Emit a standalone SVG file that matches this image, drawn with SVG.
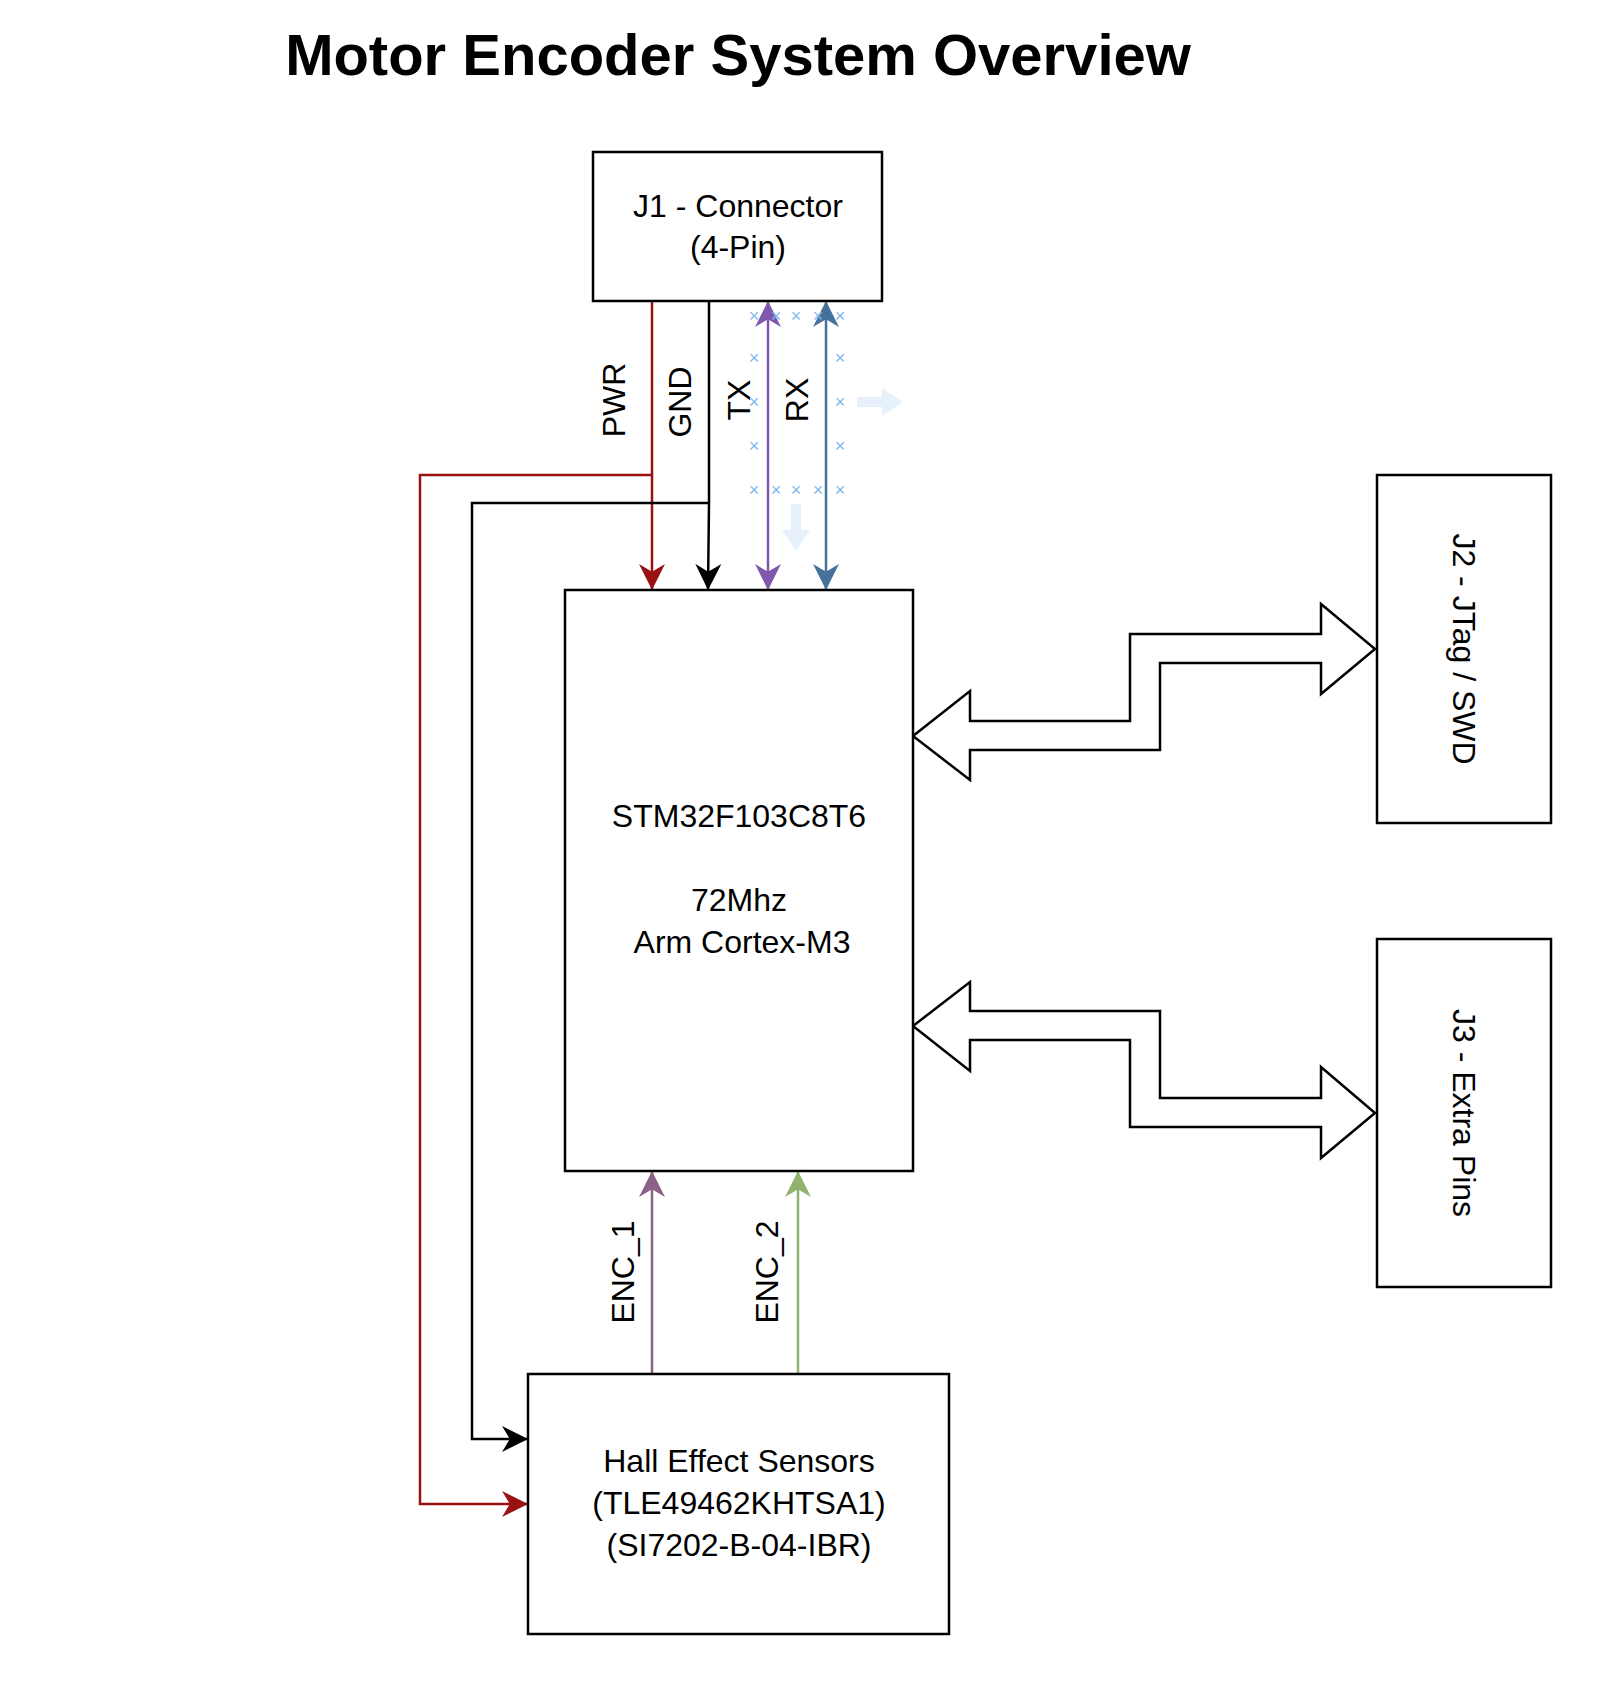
<svg xmlns="http://www.w3.org/2000/svg" width="1621" height="1704" viewBox="0 0 1621 1704">
<style>
.box{fill:#fff;stroke:#000;stroke-width:2.5}
.t{font-family:"Liberation Sans",Arial,sans-serif;font-size:32px;fill:#000;text-anchor:middle}
.c{fill:none;stroke-width:2.5}
.x{font-family:"Liberation Sans",Arial,sans-serif;font-size:18px;fill:#7fb8ee;text-anchor:middle;dominant-baseline:central}
</style>
<defs>
<marker id="mR" viewBox="0 0 10 10" refX="10" refY="5" markerWidth="26" markerHeight="26" markerUnits="userSpaceOnUse" orient="auto-start-reverse"><path d="M0,0 L10,5 L0,10 L3,5 Z" fill="#9a1111"/></marker>
<marker id="mK" viewBox="0 0 10 10" refX="10" refY="5" markerWidth="26" markerHeight="26" markerUnits="userSpaceOnUse" orient="auto-start-reverse"><path d="M0,0 L10,5 L0,10 L3,5 Z" fill="#000"/></marker>
<marker id="mP" viewBox="0 0 10 10" refX="10" refY="5" markerWidth="26" markerHeight="26" markerUnits="userSpaceOnUse" orient="auto-start-reverse"><path d="M0,0 L10,5 L0,10 L3,5 Z" fill="#7f58ad"/></marker>
<marker id="mB" viewBox="0 0 10 10" refX="10" refY="5" markerWidth="26" markerHeight="26" markerUnits="userSpaceOnUse" orient="auto-start-reverse"><path d="M0,0 L10,5 L0,10 L3,5 Z" fill="#46719a"/></marker>
<marker id="mM" viewBox="0 0 10 10" refX="10" refY="5" markerWidth="26" markerHeight="26" markerUnits="userSpaceOnUse" orient="auto-start-reverse"><path d="M0,0 L10,5 L0,10 L3,5 Z" fill="#8c6286"/></marker>
<marker id="mG" viewBox="0 0 10 10" refX="10" refY="5" markerWidth="26" markerHeight="26" markerUnits="userSpaceOnUse" orient="auto-start-reverse"><path d="M0,0 L10,5 L0,10 L3,5 Z" fill="#8fb36d"/></marker>
</defs>
<rect width="1621" height="1704" fill="#fff"/>
<text x="738" y="75" font-family="Liberation Sans,Arial,sans-serif" font-size="58" font-weight="bold" text-anchor="middle">Motor Encoder System Overview</text>

<g id="connectors">
<path class="c" stroke="#9a1111" d="M652,301 V590" marker-end="url(#mR)"/>
<path class="c" stroke="#9a1111" d="M652,475 H420 V1504 H528" marker-end="url(#mR)"/>
<path class="c" stroke="#000" d="M709,301 V503 L708,590" marker-end="url(#mK)"/>
<path class="c" stroke="#000" d="M709,503 H472 V1439 H528" marker-end="url(#mK)"/>
<path class="c" stroke="#7f58ad" d="M768,301 V590" marker-start="url(#mP)" marker-end="url(#mP)"/>
<path class="c" stroke="#46719a" d="M826,301 V590" marker-start="url(#mB)" marker-end="url(#mB)"/>
<path class="c" stroke="#8c6286" d="M652,1374 V1171" marker-end="url(#mM)"/>
<path class="c" stroke="#8fb36d" d="M798,1374 V1171" marker-end="url(#mG)"/>
<polygon class="box" points="913,736 970,691 970,721 1130,721 1130,634 1321,634 1321,604 1375,649 1321,694 1321,663 1160,663 1160,750 970,750 970,780"/>
<polygon class="box" points="913,1026 970,982 970,1011 1160,1011 1160,1098 1321,1098 1321,1067 1375,1113 1321,1158 1321,1127 1130,1127 1130,1040 970,1040 970,1071"/>
<g class="t" style="dominant-baseline:central">
<text transform="translate(614,400) rotate(-90)">PWR</text>
<text transform="translate(680,402) rotate(-90)">GND</text>
<text transform="translate(739,400) rotate(-90)">TX</text>
<text transform="translate(797,400) rotate(-90)">RX</text>
<text transform="translate(623,1272) rotate(-90)">ENC_1</text>
<text transform="translate(767,1272) rotate(-90)">ENC_2</text>
</g>
</g>

<g id="selection">
<g class="x">
<text x="754" y="316">×</text><text x="776" y="316">×</text><text x="796" y="316">×</text><text x="818" y="316">×</text><text x="840" y="316">×</text>
<text x="754" y="358">×</text><text x="840" y="358">×</text>
<text x="754" y="402">×</text><text x="840" y="402">×</text>
<text x="754" y="446">×</text><text x="840" y="446">×</text>
<text x="754" y="490">×</text><text x="776" y="490">×</text><text x="796" y="490">×</text><text x="818" y="490">×</text><text x="840" y="490">×</text>
</g>
<polygon fill="#e6f1fc" points="857,397 882,397 882,388 903,402 882,416 882,407 857,407"/>
<polygon fill="#e6f1fc" points="791,504 801,504 801,530 810,530 796,551 782,530 791,530"/>
</g>

<g id="j1"><rect class="box" x="593" y="152" width="289" height="149"/>
<text class="t" x="738" y="217">J1 - Connector</text><text class="t" x="738" y="258">(4-Pin)</text></g>
<g id="mcu"><rect class="box" x="565" y="590" width="348" height="581"/>
<text class="t" x="739" y="827">STM32F103C8T6</text><text class="t" x="739" y="911">72Mhz</text><text class="t" x="742" y="953">Arm Cortex-M3</text></g>
<g id="hall"><rect class="box" x="528" y="1374" width="421" height="260"/>
<text class="t" x="739" y="1472">Hall Effect Sensors</text><text class="t" x="739" y="1514">(TLE49462KHTSA1)</text><text class="t" x="739" y="1556">(SI7202-B-04-IBR)</text></g>
<g id="j2"><rect class="box" x="1377" y="475" width="174" height="348"/>
<text class="t" transform="translate(1464,649) rotate(90)" style="dominant-baseline:central">J2 - JTag / SWD</text></g>
<g id="j3"><rect class="box" x="1377" y="939" width="174" height="348"/>
<text class="t" transform="translate(1464,1113) rotate(90)" style="dominant-baseline:central">J3 - Extra Pins</text></g>
</svg>
